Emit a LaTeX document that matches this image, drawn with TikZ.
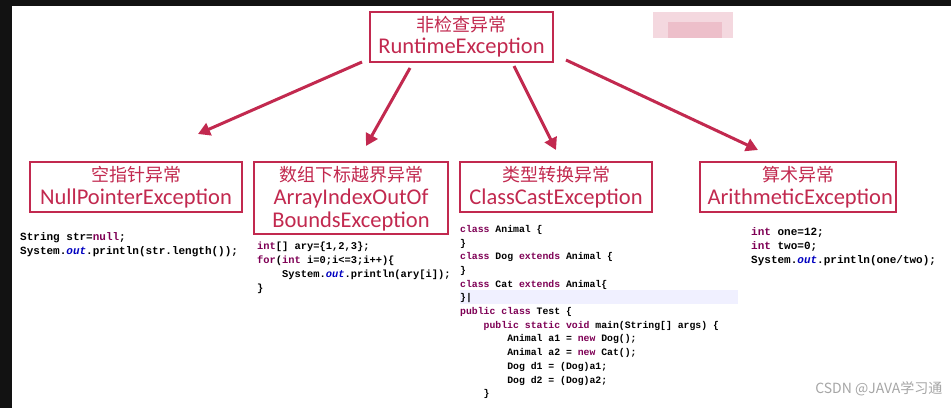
\documentclass[tikz,border=0pt]{standalone}
\usepackage{fontspec}
\setmainfont{Carlito}
\setmonofont{Liberation Mono}
\newfontfamily\cjk{Noto Sans CJK SC}
\usetikzlibrary{arrows.meta}
\definecolor{crim}{HTML}{C2294F}
\definecolor{kwc}{HTML}{7F0055}
\definecolor{outc}{HTML}{0000C0}
\newcommand\kw[1]{\textcolor{kwc}{#1}}
\newcommand\outw{\textcolor{outc}{\textit{out}}}
\tikzset{
  box/.style={draw=crim, line width=2pt, inner sep=0pt, text=crim, align=center},
  cn/.style={font=\cjk\fontsize{18}{20}\selectfont, text=crim},
  en/.style={font=\fontsize{22.5}{24}\selectfont, text=crim},
  arr/.style={draw=crim, line width=3pt, -{Triangle[length=12pt,width=13pt]}},
  code/.style={anchor=north west, align=left, inner sep=0pt, font=\ttfamily\bfseries\fontsize{11}{14}\selectfont},
  codem/.style={code, font=\ttfamily\bfseries\fontsize{10.4}{14}\selectfont},
  codes/.style={code, font=\ttfamily\bfseries\fontsize{9.8}{13.7}\selectfont},
}
\begin{document}
\begin{tikzpicture}[x=1pt,y=-1pt]
\useasboundingbox (0,0) rectangle (951,408);
\fill[black!93] (0,0) rectangle (951,408);
\fill[white] (12,6) rectangle (951,408);
\fill[crim!18] (653,12) rectangle (733,38);
\fill[crim!30] (668,22) rectangle (722,38);
% top
\node[box, minimum width=183, minimum height=50] (top) at (461.5,37) {};
\node[cn] at (461.5,25) {非检查异常};
\node[en] at (461.5,48) {RuntimeException};
% NPE
\node[box, minimum width=212, minimum height=50] (npe) at (136,187) {};
\node[cn] at (136,175) {空指针异常};
\node[en] at (136,198) {NullPointerException};
% Array
\node[box, minimum width=194, minimum height=72] (arr) at (351,198) {};
\node[cn] at (351,175) {数组下标越界异常};
\node[en] at (351,198) {ArrayIndexOutOf};
\node[en] at (351,221) {BoundsException};
% ClassCast
\node[box, minimum width=192, minimum height=50] (cc) at (556,187) {};
\node[cn] at (556,175) {类型转换异常};
\node[en] at (556,198) {ClassCastException};
% Arithmetic
\node[box, minimum width=196, minimum height=50] (ar) at (798,187) {};
\begin{scope}
\clip (ar.north west) rectangle (ar.south east);
\node[cn] at (798,175) {算术异常};
\node[en, anchor=west] at (704,198) {ArithmeticException};
\end{scope}
% arrows
\coordinate (t1) at (362,62);
\coordinate (t2) at (410,68);
\coordinate (t3) at (514,66);
\coordinate (t4) at (566,60);
\coordinate (h1) at (198,134);
\coordinate (h2) at (366,146);
\coordinate (h3) at (556,150);
\coordinate (h4) at (758,150);
\draw[arr] (t1) -- (h1);
\draw[arr] (t2) -- (h2);
\draw[arr] (t3) -- (h3);
\draw[arr] (t4) -- (h4);
% code
\node[code] (c1) at (20,232) {String str=\kw{null};\\System.\outw.println(str.length());};
\node[codem] (c2) at (257,242) {\kw{int}[] ary=\{1,2,3\};\\\kw{for}(\kw{int} i=0;i<=3;i++)\{\\\ \ \ \ System.\outw.println(ary[i]);\\\}};
\fill[blue!6] (460,290) rectangle (738,304);
\node[codes] (c3) at (460,225) {\kw{class} Animal \{\\\}\\\kw{class} Dog \kw{extends} Animal \{\\\}\\\kw{class} Cat \kw{extends} Animal\{\\\}|\\\kw{public} \kw{class} Test \{\\\ \ \ \ \kw{public} \kw{static} \kw{void} main(String[] args) \{\\\ \ \ \ \ \ \ \ Animal a1 = \kw{new} Dog();\\\ \ \ \ \ \ \ \ Animal a2 = \kw{new} Cat();\\\ \ \ \ \ \ \ \ Dog d1 = (Dog)a1;\\\ \ \ \ \ \ \ \ Dog d2 = (Dog)a2;\\\ \ \ \ \}};
\node[code] (c4) at (751,227) {\kw{int} one=12;\\\kw{int} two=0;\\System.\outw.println(one/two);};
\node[anchor=east, font=\cjk\fontsize{14}{16}\selectfont, text=black!35] (wm) at (946,389) {CSDN @JAVA学习通};
\end{tikzpicture}
\end{document}
